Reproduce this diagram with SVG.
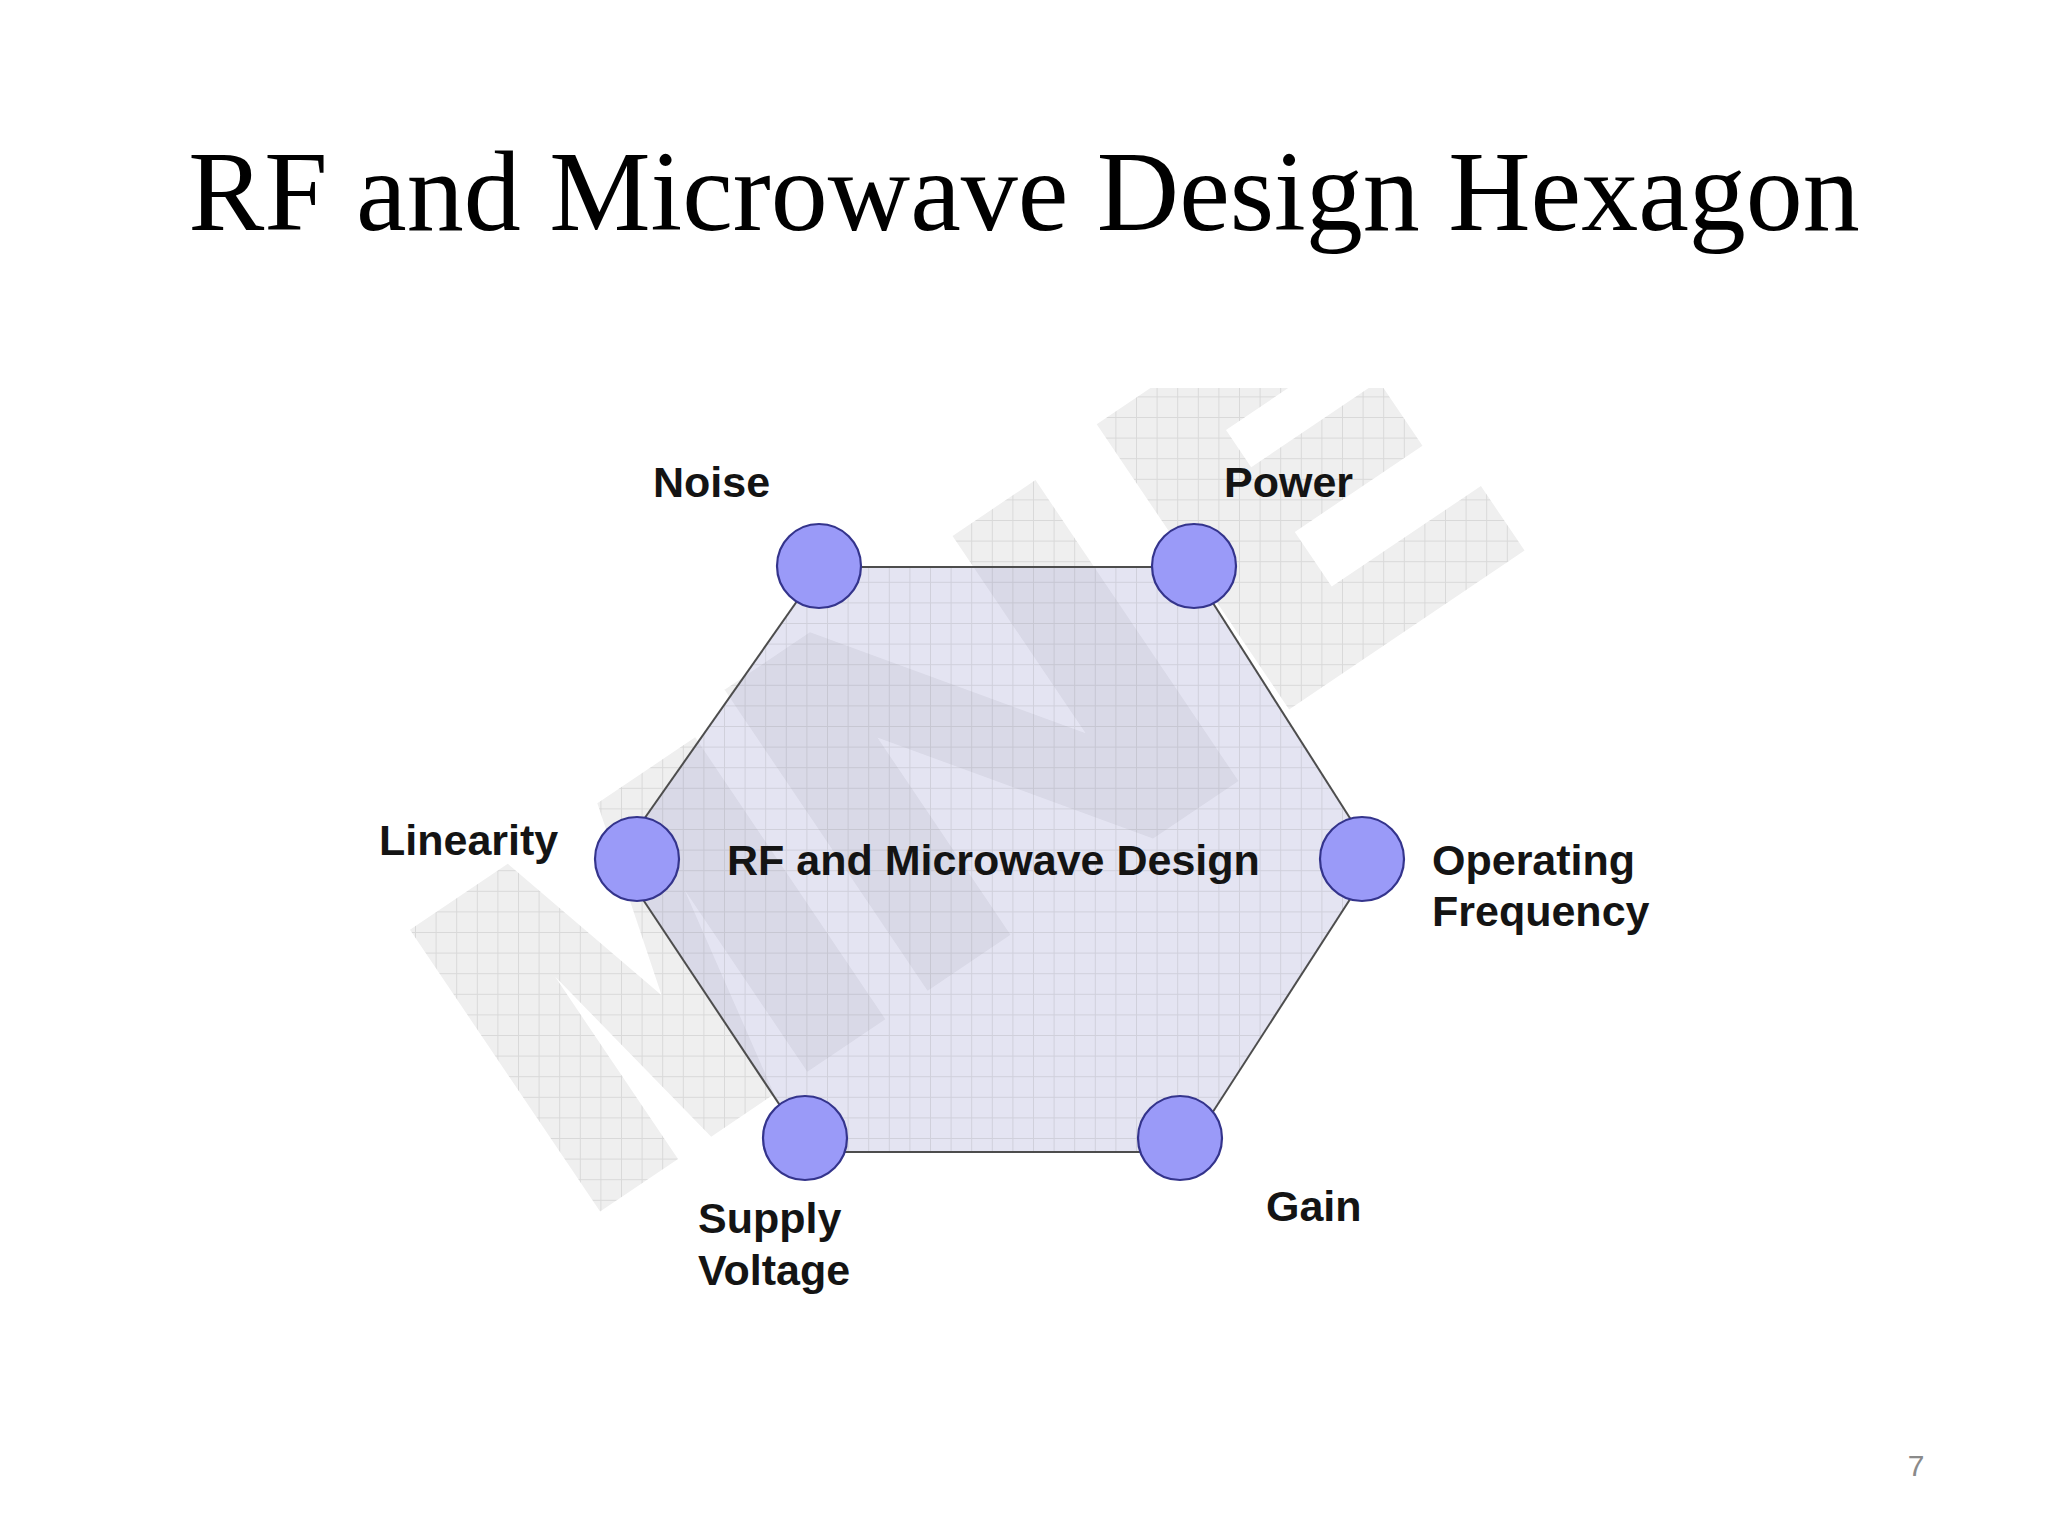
<svg xmlns="http://www.w3.org/2000/svg" width="2048" height="1536" viewBox="0 0 2048 1536">
<defs>
<style>
.lbl{font-family:"Liberation Sans",Arial,Helvetica,sans-serif;font-weight:bold;font-size:43px;fill:#141414;}
.title{font-family:"Liberation Serif","Times New Roman",serif;font-size:114px;fill:#000;}
.pnum{font-family:"Liberation Sans",Arial,sans-serif;font-size:30px;fill:#8a8a8a;}
.node circle{fill:#9a9af8;stroke:#34348c;stroke-width:2.2;}
.edge{stroke:#4d4d4d;stroke-width:2;fill:none;}
.wm{fill:#efefef;}
</style>
<pattern id="grid" width="20.6" height="20.6" patternUnits="userSpaceOnUse" x="3" y="5">
<path d="M0.5 0V20.6M0 0.5H20.6" stroke="#6a6a6a" stroke-opacity="0.17" stroke-width="1" fill="none"/>
</pattern>
<polygon id="hexShape" points="821,567 1190,567 1376,859 1187,1152 811,1152 616,859"/>
<polygon id="wmM" points="-180,1000 -62,1000 -8,1195 46,1000 164,1000 164,1340 70,1340 70,1120 30,1340 -46,1340 -86,1120 -86,1340 -180,1340"/>
<polygon id="wmN" points="215,977 318,977 490,1215 490,977 590,977 590,1340 487,1340 315,1102 315,1340 215,1340"/>
<polygon id="wmE" points="672,965 956,965 956,1042 776,1042 776,1087 930,1087 930,1165 776,1165 776,1231 956,1231 956,1309 672,1309"/>
<clipPath id="gridClip">
<use href="#hexShape"/>
<use href="#wmM" transform="rotate(-34)"/>
<use href="#wmN" transform="rotate(-34)"/>
<use href="#wmE" transform="rotate(-34)"/>
</clipPath>
<clipPath id="imgClip"><rect x="409" y="388" width="1300" height="945"/></clipPath>
</defs>
<rect width="2048" height="1536" fill="#ffffff"/>
<g id="watermark" clip-path="url(#imgClip)">
<g class="wm" transform="rotate(-34)">
<use href="#wmM"/>
<use href="#wmN"/>
<use href="#wmE"/>
</g>
</g>
<g id="node-center">
<use href="#hexShape" fill="#a5a5d4" fill-opacity="0.3"/>
<g clip-path="url(#imgClip)"><rect x="400" y="380" width="1320" height="960" fill="url(#grid)" clip-path="url(#gridClip)"/></g>
<text class="lbl" x="727" y="875">RF and Microwave Design</text>
</g>
<g id="connectors">
<line class="edge" x1="821" y1="567" x2="1190" y2="567"/>
<line class="edge" x1="1190" y1="567" x2="1376" y2="859"/>
<line class="edge" x1="1376" y1="859" x2="1187" y2="1152"/>
<line class="edge" x1="1187" y1="1152" x2="811" y2="1152"/>
<line class="edge" x1="811" y1="1152" x2="616" y2="859"/>
<line class="edge" x1="616" y1="859" x2="821" y2="567"/>
</g>
<g id="node-noise" class="node"><circle cx="819" cy="566" r="42"/><text class="lbl" x="653" y="497">Noise</text></g>
<g id="node-power" class="node"><circle cx="1194" cy="566" r="42"/><text class="lbl" x="1224" y="497">Power</text></g>
<g id="node-linearity" class="node"><circle cx="637" cy="859" r="42"/><text class="lbl" x="379" y="855">Linearity</text></g>
<g id="node-frequency" class="node"><circle cx="1362" cy="859" r="42"/><text class="lbl" x="1432" y="875">Operating</text><text class="lbl" x="1432" y="926">Frequency</text></g>
<g id="node-supply" class="node"><circle cx="805" cy="1138" r="42"/><text class="lbl" x="698" y="1233">Supply</text><text class="lbl" x="698" y="1285">Voltage</text></g>
<g id="node-gain" class="node"><circle cx="1180" cy="1138" r="42"/><text class="lbl" x="1266" y="1221">Gain</text></g>
<text class="title" x="1024" y="230" text-anchor="middle">RF and Microwave Design Hexagon</text>
<text class="pnum" x="1916" y="1476" text-anchor="middle">7</text>
</svg>
